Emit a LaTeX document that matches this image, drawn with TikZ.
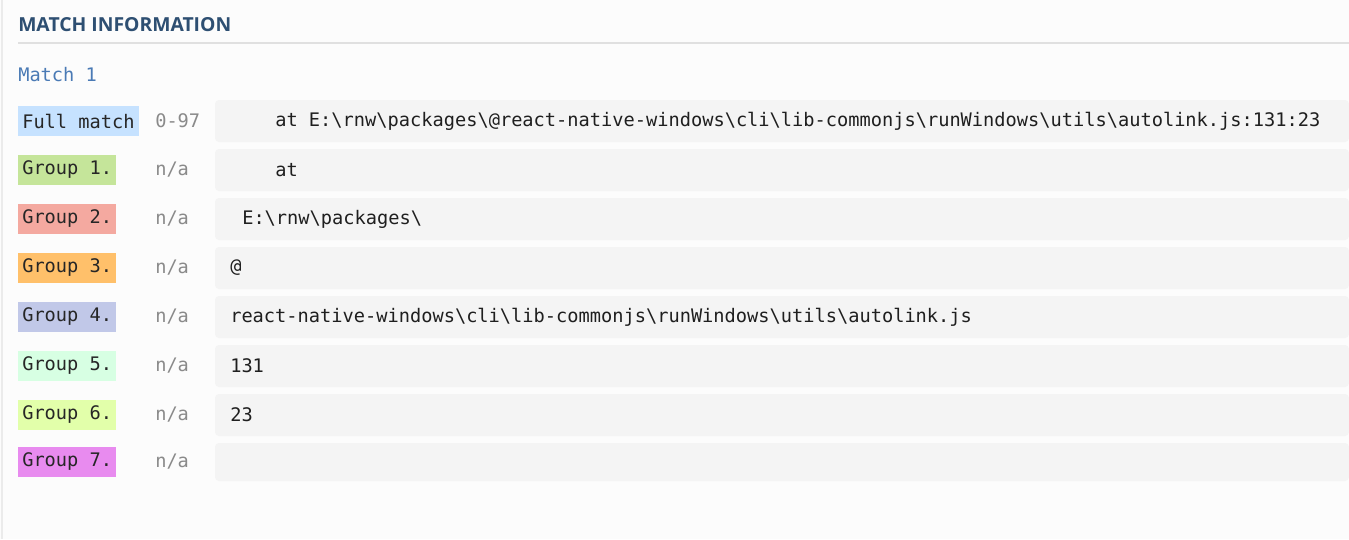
\documentclass[tikz,border=0pt]{standalone}
\usepackage{fontspec}
\setmainfont{Open Sans}
\setmonofont{DejaVu Sans Mono}
\definecolor{hdr}{HTML}{2E4F72}
\definecolor{mt}{HTML}{4A7AB5}
\definecolor{rng}{HTML}{8A8A8A}
\definecolor{valbg}{HTML}{F4F4F4}
\definecolor{cF}{HTML}{C6E2FF}
\definecolor{cA}{HTML}{C5E59A}
\definecolor{cB}{HTML}{F4A9A0}
\definecolor{cC}{HTML}{FFC06A}
\definecolor{cD}{HTML}{C1C8E8}
\definecolor{cE}{HTML}{D7FFE3}
\definecolor{cG}{HTML}{E2FFAA}
\definecolor{cH}{HTML}{E88BEF}
\begin{document}
\begin{tikzpicture}[x=0.75pt,y=-0.75pt,
  lab/.style={anchor=west,inner xsep=3pt,inner ysep=0pt,minimum height=22.5pt,font=\ttfamily\fontsize{14}{16}\selectfont,text=black!85},
  rng/.style={anchor=west,inner sep=0pt,font=\ttfamily\fontsize{14}{16}\selectfont,text=rng},
  val/.style={anchor=west,inner sep=0pt,font=\ttfamily\fontsize{14}{16}\selectfont,text=black!88}]
\useasboundingbox[fill=white!99!black] (0,0) rectangle (1349,539);
\draw[black!8,line width=1.5pt] (2,0) -- (2,539);
\node[anchor=west,inner sep=0pt,font=\bfseries\fontsize{14.5}{17}\selectfont,text=hdr] (h) at (18,25) {MATCH INFORMATION};
\draw[black!12,line width=1.2pt] (18,43) -- (1349,43);
\node[anchor=west,inner sep=0pt,font=\ttfamily\fontsize{14}{16}\selectfont,text=mt] (m) at (18,75) {Match 1};
\foreach \y/\h [count=\i] in {121/42,170/42,219/42,268/42,317/42,366/42,415/42,462/38}{
  \fill[valbg,rounded corners=3pt] (215,\y-\h/2) rectangle (1349,\y+\h/2);
}
\node[lab,fill=cF] (l0) at (18,121) {Full match};
\node[rng] (r0) at (155,121) {0-97};
\node[val] (v0) at (275,121) {at E:\textbackslash rnw\textbackslash packages\textbackslash @react-native-windows\textbackslash cli\textbackslash lib-commonjs\textbackslash runWindows\textbackslash utils\textbackslash autolink.js:131:23};
\node[lab,fill=cA] (l1) at (18,170) {Group 1.};
\node[rng] (r1) at (155,170) {n/a};
\node[val] (v1) at (275,170) {at};
\node[lab,fill=cB] (l2) at (18,219) {Group 2.};
\node[rng] (r2) at (155,219) {n/a};
\node[val] (v2) at (242,219) {E:\textbackslash rnw\textbackslash packages\textbackslash};
\node[lab,fill=cC] (l3) at (18,268) {Group 3.};
\node[rng] (r3) at (155,268) {n/a};
\node[val] (v3) at (230,268) {@};
\node[lab,fill=cD] (l4) at (18,317) {Group 4.};
\node[rng] (r4) at (155,317) {n/a};
\node[val] (v4) at (230,317) {react-native-windows\textbackslash cli\textbackslash lib-commonjs\textbackslash runWindows\textbackslash utils\textbackslash autolink.js};
\node[lab,fill=cE] (l5) at (18,366) {Group 5.};
\node[rng] (r5) at (155,366) {n/a};
\node[val] (v5) at (230,366) {131};
\node[lab,fill=cG] (l6) at (18,415) {Group 6.};
\node[rng] (r6) at (155,415) {n/a};
\node[val] (v6) at (230,415) {23};
\node[lab,fill=cH] (l7) at (18,462) {Group 7.};
\node[rng] (r7) at (155,462) {n/a};
\end{tikzpicture}
\end{document}
